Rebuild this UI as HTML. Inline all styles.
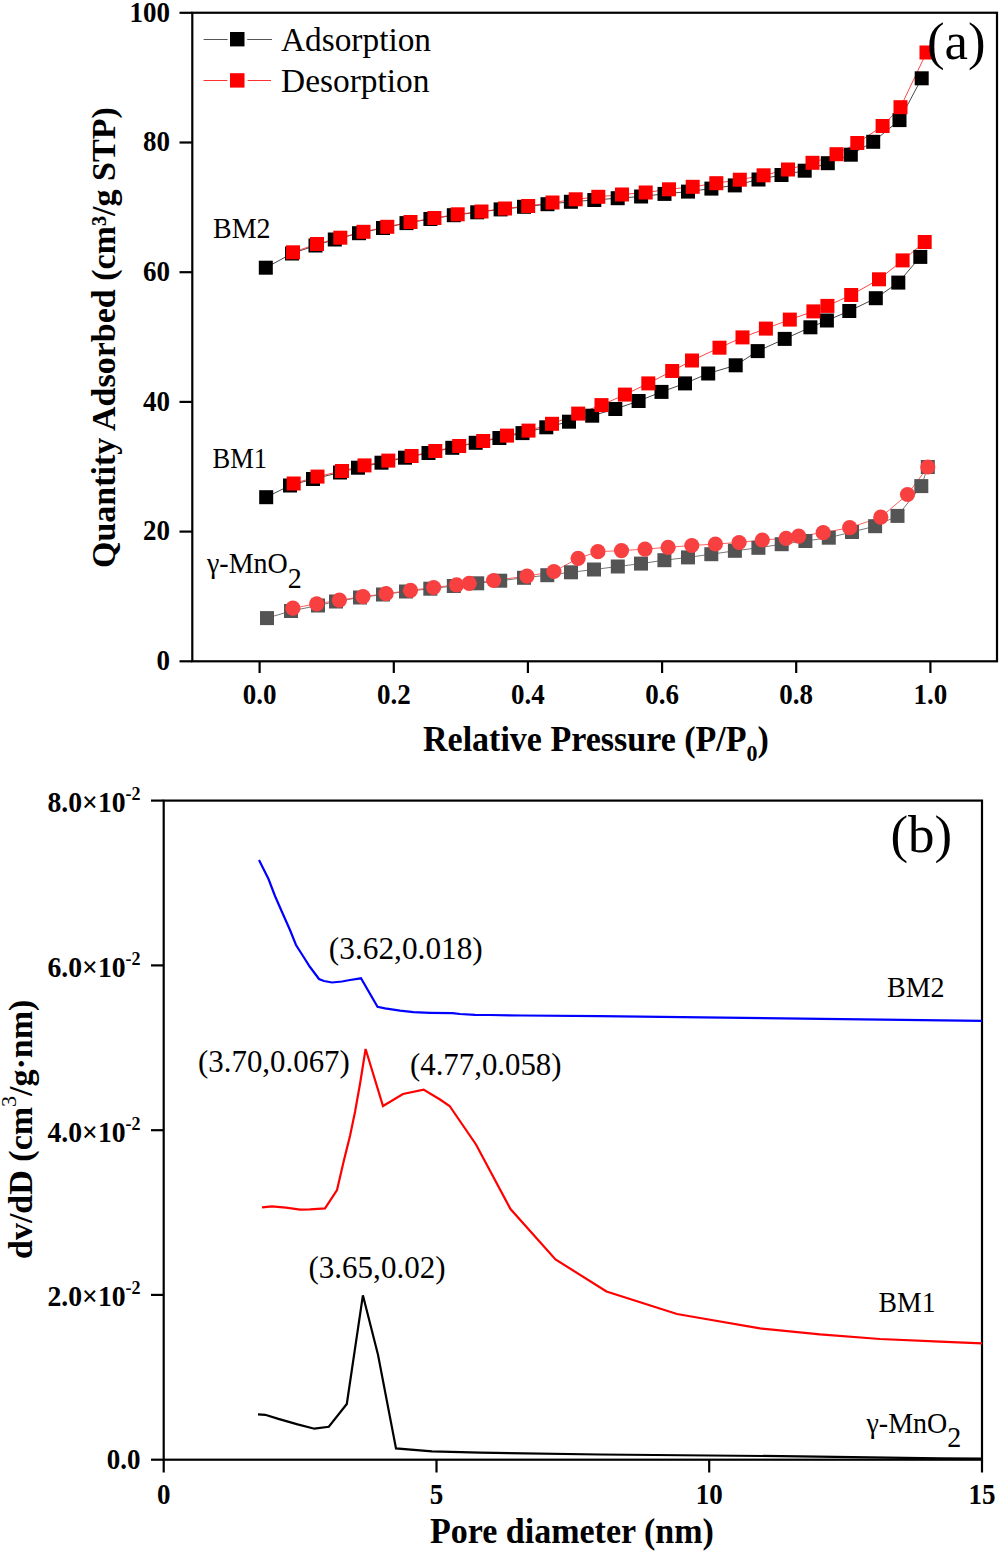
<!DOCTYPE html>
<html><head><meta charset="utf-8"><style>
html,body{margin:0;padding:0;background:#fff;}
svg{display:block;font-family:"Liberation Serif", serif;}
</style></head><body>
<svg width="1000" height="1553" viewBox="0 0 1000 1553">
<rect width="1000" height="1553" fill="#fff"/>
<rect x="192.3" y="12.75" width="804.7" height="648.55" fill="none" stroke="#000" stroke-width="2.2"/>
<line x1="179.5" y1="661.3" x2="192.3" y2="661.3" stroke="#000" stroke-width="2.2"/>
<text transform="translate(170.0,670.1) scale(1,1.1)" font-size="27" font-weight="bold" text-anchor="end" >0</text>
<line x1="179.5" y1="531.6" x2="192.3" y2="531.6" stroke="#000" stroke-width="2.2"/>
<text transform="translate(170.0,540.4) scale(1,1.1)" font-size="27" font-weight="bold" text-anchor="end" >20</text>
<line x1="179.5" y1="401.9" x2="192.3" y2="401.9" stroke="#000" stroke-width="2.2"/>
<text transform="translate(170.0,410.7) scale(1,1.1)" font-size="27" font-weight="bold" text-anchor="end" >40</text>
<line x1="179.5" y1="272.2" x2="192.3" y2="272.2" stroke="#000" stroke-width="2.2"/>
<text transform="translate(170.0,281.0) scale(1,1.1)" font-size="27" font-weight="bold" text-anchor="end" >60</text>
<line x1="179.5" y1="142.5" x2="192.3" y2="142.5" stroke="#000" stroke-width="2.2"/>
<text transform="translate(170.0,151.3) scale(1,1.1)" font-size="27" font-weight="bold" text-anchor="end" >80</text>
<line x1="179.5" y1="12.8" x2="192.3" y2="12.8" stroke="#000" stroke-width="2.2"/>
<text transform="translate(170.0,21.6) scale(1,1.1)" font-size="27" font-weight="bold" text-anchor="end" >100</text>
<line x1="259.6" y1="661.3" x2="259.6" y2="673" stroke="#000" stroke-width="2.2"/>
<text transform="translate(259.6,703.5) scale(1,1.1)" font-size="27" font-weight="bold" text-anchor="middle" >0.0</text>
<line x1="393.8" y1="661.3" x2="393.8" y2="673" stroke="#000" stroke-width="2.2"/>
<text transform="translate(393.8,703.5) scale(1,1.1)" font-size="27" font-weight="bold" text-anchor="middle" >0.2</text>
<line x1="527.9" y1="661.3" x2="527.9" y2="673" stroke="#000" stroke-width="2.2"/>
<text transform="translate(527.9,703.5) scale(1,1.1)" font-size="27" font-weight="bold" text-anchor="middle" >0.4</text>
<line x1="662.1" y1="661.3" x2="662.1" y2="673" stroke="#000" stroke-width="2.2"/>
<text transform="translate(662.1,703.5) scale(1,1.1)" font-size="27" font-weight="bold" text-anchor="middle" >0.6</text>
<line x1="796.2" y1="661.3" x2="796.2" y2="673" stroke="#000" stroke-width="2.2"/>
<text transform="translate(796.2,703.5) scale(1,1.1)" font-size="27" font-weight="bold" text-anchor="middle" >0.8</text>
<line x1="930.4" y1="661.3" x2="930.4" y2="673" stroke="#000" stroke-width="2.2"/>
<text transform="translate(930.4,703.5) scale(1,1.1)" font-size="27" font-weight="bold" text-anchor="middle" >1.0</text>
<text transform="translate(423.0,751.2) scale(1,1.05)" font-size="34" font-weight="bold" >Relative Pressure (P/P<tspan font-size="22" dy="9">0</tspan><tspan dy="-9">)</tspan></text>
<text transform="translate(114.8,568) rotate(-90)" x="0" y="0" font-size="34" font-weight="bold">Quantity Adsorbed (cm³/g STP)</text>
<polyline fill="none" stroke="#333" stroke-width="0.9" points="265.8,267.7 292.0,253.5 315.5,245.5 334.8,239.5 359.0,233.2 383.0,228.0 406.5,223.1 430.4,219.0 453.8,215.2 477.2,212.3 500.6,209.4 524.0,206.8 547.5,204.2 570.9,201.8 594.3,200.0 617.7,198.2 641.1,196.5 664.5,193.9 688.0,191.6 711.4,188.6 734.8,185.4 758.5,179.5 781.5,175.0 804.7,170.7 827.8,163.2 850.8,154.7 873.2,141.8 899.5,120.1 921.7,78.3"/>
<polyline fill="none" stroke="#ff3030" stroke-width="0.9" points="293.0,252.3 317.0,244.0 340.3,237.7 363.5,231.8 387.3,226.8 410.5,222.0 434.4,218.0 457.7,214.3 481.5,211.5 505.0,208.5 528.2,206.0 552.5,202.5 575.7,199.3 598.3,196.8 622.0,194.5 645.7,192.5 669.0,189.3 692.7,186.8 716.3,183.2 739.8,179.7 763.6,175.3 788.0,169.5 812.5,162.8 836.5,154.2 857.3,143.0 882.6,126.0 900.5,107.2 926.5,52.5"/>
<g fill="#000"><rect x="258.8" y="260.7" width="14" height="14"/><rect x="285.0" y="246.5" width="14" height="14"/><rect x="308.5" y="238.5" width="14" height="14"/><rect x="327.8" y="232.5" width="14" height="14"/><rect x="352.0" y="226.2" width="14" height="14"/><rect x="376.0" y="221.0" width="14" height="14"/><rect x="399.5" y="216.1" width="14" height="14"/><rect x="423.4" y="212.0" width="14" height="14"/><rect x="446.8" y="208.2" width="14" height="14"/><rect x="470.2" y="205.3" width="14" height="14"/><rect x="493.6" y="202.4" width="14" height="14"/><rect x="517.0" y="199.8" width="14" height="14"/><rect x="540.5" y="197.2" width="14" height="14"/><rect x="563.9" y="194.8" width="14" height="14"/><rect x="587.3" y="193.0" width="14" height="14"/><rect x="610.7" y="191.2" width="14" height="14"/><rect x="634.1" y="189.5" width="14" height="14"/><rect x="657.5" y="186.9" width="14" height="14"/><rect x="681.0" y="184.6" width="14" height="14"/><rect x="704.4" y="181.6" width="14" height="14"/><rect x="727.8" y="178.4" width="14" height="14"/><rect x="751.5" y="172.5" width="14" height="14"/><rect x="774.5" y="168.0" width="14" height="14"/><rect x="797.7" y="163.7" width="14" height="14"/><rect x="820.8" y="156.2" width="14" height="14"/><rect x="843.8" y="147.7" width="14" height="14"/><rect x="866.2" y="134.8" width="14" height="14"/><rect x="892.5" y="113.1" width="14" height="14"/><rect x="914.7" y="71.3" width="14" height="14"/></g>
<g fill="#ff0000"><rect x="286.0" y="245.3" width="14" height="14"/><rect x="310.0" y="237.0" width="14" height="14"/><rect x="333.3" y="230.7" width="14" height="14"/><rect x="356.5" y="224.8" width="14" height="14"/><rect x="380.3" y="219.8" width="14" height="14"/><rect x="403.5" y="215.0" width="14" height="14"/><rect x="427.4" y="211.0" width="14" height="14"/><rect x="450.7" y="207.3" width="14" height="14"/><rect x="474.5" y="204.5" width="14" height="14"/><rect x="498.0" y="201.5" width="14" height="14"/><rect x="521.2" y="199.0" width="14" height="14"/><rect x="545.5" y="195.5" width="14" height="14"/><rect x="568.7" y="192.3" width="14" height="14"/><rect x="591.3" y="189.8" width="14" height="14"/><rect x="615.0" y="187.5" width="14" height="14"/><rect x="638.7" y="185.5" width="14" height="14"/><rect x="662.0" y="182.3" width="14" height="14"/><rect x="685.7" y="179.8" width="14" height="14"/><rect x="709.3" y="176.2" width="14" height="14"/><rect x="732.8" y="172.7" width="14" height="14"/><rect x="756.6" y="168.3" width="14" height="14"/><rect x="781.0" y="162.5" width="14" height="14"/><rect x="805.5" y="155.8" width="14" height="14"/><rect x="829.5" y="147.2" width="14" height="14"/><rect x="850.3" y="136.0" width="14" height="14"/><rect x="875.6" y="119.0" width="14" height="14"/><rect x="893.5" y="100.2" width="14" height="14"/><rect x="919.5" y="45.5" width="14" height="14"/></g>
<polyline fill="none" stroke="#333" stroke-width="0.9" points="266.2,497.2 290.0,485.5 313.0,479.0 340.0,472.5 358.0,467.7 381.5,462.7 405.0,457.7 428.5,453.0 452.3,447.8 475.7,442.8 499.4,438.0 522.5,433.1 546.3,427.3 569.0,421.7 592.2,415.7 615.3,409.0 638.6,401.0 661.5,391.9 685.0,383.4 708.2,373.5 735.7,365.3 757.7,351.1 784.7,338.9 810.4,327.3 826.9,320.5 849.3,311.0 875.8,298.2 898.3,282.6 920.3,256.9"/>
<polyline fill="none" stroke="#ff3030" stroke-width="0.9" points="293.7,483.5 317.5,476.6 342.0,471.0 364.5,465.4 388.3,460.6 411.6,456.0 435.3,451.0 459.2,446.0 483.2,441.0 507.0,435.6 528.5,430.6 552.0,423.8 578.2,413.6 601.5,405.1 624.9,394.6 648.3,383.4 672.2,371.0 692.0,360.5 719.5,347.7 742.5,337.4 765.9,328.6 789.8,319.6 813.4,311.4 827.4,305.9 851.2,295.0 879.0,279.3 902.6,260.4 924.7,242.0"/>
<g fill="#000"><rect x="259.2" y="490.2" width="14" height="14"/><rect x="283.0" y="478.5" width="14" height="14"/><rect x="306.0" y="472.0" width="14" height="14"/><rect x="333.0" y="465.5" width="14" height="14"/><rect x="351.0" y="460.7" width="14" height="14"/><rect x="374.5" y="455.7" width="14" height="14"/><rect x="398.0" y="450.7" width="14" height="14"/><rect x="421.5" y="446.0" width="14" height="14"/><rect x="445.3" y="440.8" width="14" height="14"/><rect x="468.7" y="435.8" width="14" height="14"/><rect x="492.4" y="431.0" width="14" height="14"/><rect x="515.5" y="426.1" width="14" height="14"/><rect x="539.3" y="420.3" width="14" height="14"/><rect x="562.0" y="414.7" width="14" height="14"/><rect x="585.2" y="408.7" width="14" height="14"/><rect x="608.3" y="402.0" width="14" height="14"/><rect x="631.6" y="394.0" width="14" height="14"/><rect x="654.5" y="384.9" width="14" height="14"/><rect x="678.0" y="376.4" width="14" height="14"/><rect x="701.2" y="366.5" width="14" height="14"/><rect x="728.7" y="358.3" width="14" height="14"/><rect x="750.7" y="344.1" width="14" height="14"/><rect x="777.7" y="331.9" width="14" height="14"/><rect x="803.4" y="320.3" width="14" height="14"/><rect x="819.9" y="313.5" width="14" height="14"/><rect x="842.3" y="304.0" width="14" height="14"/><rect x="868.8" y="291.2" width="14" height="14"/><rect x="891.3" y="275.6" width="14" height="14"/><rect x="913.3" y="249.9" width="14" height="14"/></g>
<g fill="#ff0000"><rect x="286.7" y="476.5" width="14" height="14"/><rect x="310.5" y="469.6" width="14" height="14"/><rect x="335.0" y="464.0" width="14" height="14"/><rect x="357.5" y="458.4" width="14" height="14"/><rect x="381.3" y="453.6" width="14" height="14"/><rect x="404.6" y="449.0" width="14" height="14"/><rect x="428.3" y="444.0" width="14" height="14"/><rect x="452.2" y="439.0" width="14" height="14"/><rect x="476.2" y="434.0" width="14" height="14"/><rect x="500.0" y="428.6" width="14" height="14"/><rect x="521.5" y="423.6" width="14" height="14"/><rect x="545.0" y="416.8" width="14" height="14"/><rect x="571.2" y="406.6" width="14" height="14"/><rect x="594.5" y="398.1" width="14" height="14"/><rect x="617.9" y="387.6" width="14" height="14"/><rect x="641.3" y="376.4" width="14" height="14"/><rect x="665.2" y="364.0" width="14" height="14"/><rect x="685.0" y="353.5" width="14" height="14"/><rect x="712.5" y="340.7" width="14" height="14"/><rect x="735.5" y="330.4" width="14" height="14"/><rect x="758.9" y="321.6" width="14" height="14"/><rect x="782.8" y="312.6" width="14" height="14"/><rect x="806.4" y="304.4" width="14" height="14"/><rect x="820.4" y="298.9" width="14" height="14"/><rect x="844.2" y="288.0" width="14" height="14"/><rect x="872.0" y="272.3" width="14" height="14"/><rect x="895.6" y="253.4" width="14" height="14"/><rect x="917.7" y="235.0" width="14" height="14"/></g>
<polyline fill="none" stroke="#666" stroke-width="0.9" points="267.0,618.1 291.0,611.0 318.0,605.5 336.0,601.5 360.0,597.5 383.0,594.5 406.0,591.5 430.3,588.7 453.8,586.0 477.2,583.3 500.2,580.7 524.0,577.8 547.3,575.2 571.0,572.3 594.0,569.5 617.8,566.5 641.0,563.6 664.4,560.2 688.0,557.4 711.3,554.2 734.9,550.8 758.4,547.8 781.7,544.2 805.4,541.0 828.8,537.7 852.0,532.0 875.1,526.2 897.5,515.9 921.3,486.1 927.8,467.0"/>
<polyline fill="none" stroke="#ff5050" stroke-width="0.9" points="292.9,608.2 316.7,603.8 339.4,600.1 363.0,596.6 386.1,593.7 410.5,590.3 433.6,587.5 456.6,584.8 469.2,583.3 493.6,580.5 527.0,576.1 553.9,571.5 578.1,558.3 597.9,551.7 621.5,550.6 645.0,549.1 668.1,547.3 691.8,545.5 715.4,544.0 739.1,542.5 762.3,540.0 786.1,538.3 798.7,536.1 823.2,532.7 849.7,527.7 880.8,517.2 907.5,494.5 927.8,467.0"/>
<g fill="#545454"><rect x="260.0" y="611.1" width="14" height="14"/><rect x="284.0" y="604.0" width="14" height="14"/><rect x="311.0" y="598.5" width="14" height="14"/><rect x="329.0" y="594.5" width="14" height="14"/><rect x="353.0" y="590.5" width="14" height="14"/><rect x="376.0" y="587.5" width="14" height="14"/><rect x="399.0" y="584.5" width="14" height="14"/><rect x="423.3" y="581.7" width="14" height="14"/><rect x="446.8" y="579.0" width="14" height="14"/><rect x="470.2" y="576.3" width="14" height="14"/><rect x="493.2" y="573.7" width="14" height="14"/><rect x="517.0" y="570.8" width="14" height="14"/><rect x="540.3" y="568.2" width="14" height="14"/><rect x="564.0" y="565.3" width="14" height="14"/><rect x="587.0" y="562.5" width="14" height="14"/><rect x="610.8" y="559.5" width="14" height="14"/><rect x="634.0" y="556.6" width="14" height="14"/><rect x="657.4" y="553.2" width="14" height="14"/><rect x="681.0" y="550.4" width="14" height="14"/><rect x="704.3" y="547.2" width="14" height="14"/><rect x="727.9" y="543.8" width="14" height="14"/><rect x="751.4" y="540.8" width="14" height="14"/><rect x="774.7" y="537.2" width="14" height="14"/><rect x="798.4" y="534.0" width="14" height="14"/><rect x="821.8" y="530.7" width="14" height="14"/><rect x="845.0" y="525.0" width="14" height="14"/><rect x="868.1" y="519.2" width="14" height="14"/><rect x="890.5" y="508.9" width="14" height="14"/><rect x="914.3" y="479.1" width="14" height="14"/><rect x="920.8" y="460.0" width="14" height="14"/></g>
<g fill="#f84040"><circle cx="292.9" cy="608.2" r="7.6"/><circle cx="316.7" cy="603.8" r="7.6"/><circle cx="339.4" cy="600.1" r="7.6"/><circle cx="363.0" cy="596.6" r="7.6"/><circle cx="386.1" cy="593.7" r="7.6"/><circle cx="410.5" cy="590.3" r="7.6"/><circle cx="433.6" cy="587.5" r="7.6"/><circle cx="456.6" cy="584.8" r="7.6"/><circle cx="469.2" cy="583.3" r="7.6"/><circle cx="493.6" cy="580.5" r="7.6"/><circle cx="527.0" cy="576.1" r="7.6"/><circle cx="553.9" cy="571.5" r="7.6"/><circle cx="578.1" cy="558.3" r="7.6"/><circle cx="597.9" cy="551.7" r="7.6"/><circle cx="621.5" cy="550.6" r="7.6"/><circle cx="645.0" cy="549.1" r="7.6"/><circle cx="668.1" cy="547.3" r="7.6"/><circle cx="691.8" cy="545.5" r="7.6"/><circle cx="715.4" cy="544.0" r="7.6"/><circle cx="739.1" cy="542.5" r="7.6"/><circle cx="762.3" cy="540.0" r="7.6"/><circle cx="786.1" cy="538.3" r="7.6"/><circle cx="798.7" cy="536.1" r="7.6"/><circle cx="823.2" cy="532.7" r="7.6"/><circle cx="849.7" cy="527.7" r="7.6"/><circle cx="880.8" cy="517.2" r="7.6"/><circle cx="907.5" cy="494.5" r="7.6"/><circle cx="927.8" cy="467.0" r="7.6"/></g>
<text transform="translate(213.0,238.0) scale(1,1.05)" font-size="28" >BM2</text>
<text transform="translate(212.5,467.8) scale(1,1.05)" font-size="28" textLength="54.5" lengthAdjust="spacingAndGlyphs" >BM1</text>
<text transform="translate(207.0,573.0) scale(1,1.05)" font-size="28" >γ-MnO<tspan dy="14">2</tspan></text>
<path d="M203.6 39.5H227.6M247.2 39.5H272" stroke="#555" stroke-width="1.1"/>
<rect x="230" y="32" width="14.5" height="14.4" fill="#000"/>
<path d="M203.6 80.5H227.4M247.6 80.5H271" stroke="#ff3030" stroke-width="1.1"/>
<rect x="230" y="73.2" width="14.5" height="14.4" fill="#ff0000"/>
<text transform="translate(281.0,50.5) scale(1,1.05)" font-size="33" textLength="150" lengthAdjust="spacingAndGlyphs" >Adsorption</text>
<text transform="translate(281.0,92.0) scale(1,1.05)" font-size="33" textLength="148.5" lengthAdjust="spacingAndGlyphs" >Desorption</text>
<text transform="translate(927.0,58.5) scale(1,1.05)" font-size="51" textLength="58.6" lengthAdjust="spacingAndGlyphs" >(a)</text>
<rect x="163.7" y="800.6" width="818.3" height="659.1" fill="none" stroke="#000" stroke-width="2.2"/>
<line x1="151" y1="1459.7" x2="163.7" y2="1459.7" stroke="#000" stroke-width="2.2"/>
<text transform="translate(140.5,1469.2) scale(1,1.1)" font-size="27" font-weight="bold" text-anchor="end" >0.0</text>
<line x1="151" y1="1294.9" x2="163.7" y2="1294.9" stroke="#000" stroke-width="2.2"/>
<text transform="translate(47.5,1306.2) scale(1,1.1)" font-size="27" font-weight="bold" textLength="78.1" lengthAdjust="spacingAndGlyphs" >2.0×10</text>
<text transform="translate(125.6,1294.4) scale(1,1.1)" font-size="18" font-weight="bold" >-2</text>
<line x1="151" y1="1130.2" x2="163.7" y2="1130.2" stroke="#000" stroke-width="2.2"/>
<text transform="translate(47.5,1141.5) scale(1,1.1)" font-size="27" font-weight="bold" textLength="78.1" lengthAdjust="spacingAndGlyphs" >4.0×10</text>
<text transform="translate(125.6,1129.7) scale(1,1.1)" font-size="18" font-weight="bold" >-2</text>
<line x1="151" y1="965.4" x2="163.7" y2="965.4" stroke="#000" stroke-width="2.2"/>
<text transform="translate(47.5,976.7) scale(1,1.1)" font-size="27" font-weight="bold" textLength="78.1" lengthAdjust="spacingAndGlyphs" >6.0×10</text>
<text transform="translate(125.6,964.9) scale(1,1.1)" font-size="18" font-weight="bold" >-2</text>
<line x1="151" y1="800.6" x2="163.7" y2="800.6" stroke="#000" stroke-width="2.2"/>
<text transform="translate(47.5,811.9) scale(1,1.1)" font-size="27" font-weight="bold" textLength="78.1" lengthAdjust="spacingAndGlyphs" >8.0×10</text>
<text transform="translate(125.6,800.1) scale(1,1.1)" font-size="18" font-weight="bold" >-2</text>
<line x1="163.7" y1="1459.7" x2="163.7" y2="1472.5" stroke="#000" stroke-width="2.2"/>
<text transform="translate(163.7,1504.2) scale(1,1.1)" font-size="27" font-weight="bold" text-anchor="middle" >0</text>
<line x1="436.5" y1="1459.7" x2="436.5" y2="1472.5" stroke="#000" stroke-width="2.2"/>
<text transform="translate(436.5,1504.2) scale(1,1.1)" font-size="27" font-weight="bold" text-anchor="middle" >5</text>
<line x1="709.2" y1="1459.7" x2="709.2" y2="1472.5" stroke="#000" stroke-width="2.2"/>
<text transform="translate(709.2,1504.2) scale(1,1.1)" font-size="27" font-weight="bold" text-anchor="middle" >10</text>
<line x1="982.0" y1="1459.7" x2="982.0" y2="1472.5" stroke="#000" stroke-width="2.2"/>
<text transform="translate(982.0,1504.2) scale(1,1.1)" font-size="27" font-weight="bold" text-anchor="middle" >15</text>
<text transform="translate(430.0,1543.3) scale(1,1.05)" font-size="34" font-weight="bold" >Pore diameter (nm)</text>
<text transform="translate(32.3,1259) rotate(-90)" x="0" y="0" font-size="34" font-weight="bold">dv/dD (cm<tspan font-size="22" font-weight="normal" dy="-16">3</tspan><tspan dy="16">/g·nm)</tspan></text>
<polyline fill="none" stroke="#0000ff" stroke-width="2.2" points="259.0,860.0 263.0,868.0 268.5,879.0 275.0,896.0 282.0,912.0 290.0,930.0 296.0,945.0 303.0,956.0 310.0,967.0 319.0,979.0 324.0,981.0 332.0,982.5 342.0,981.5 350.0,980.0 361.0,978.3 377.5,1006.8 385.0,1008.3 400.0,1010.7 413.5,1012.2 430.0,1012.8 452.5,1013.2 460.0,1014.0 475.0,1014.8 490.0,1015.0 522.0,1015.5 600.0,1016.2 982.0,1020.8"/>
<polyline fill="none" stroke="#ff0000" stroke-width="2.2" points="262.0,1207.4 272.0,1206.4 286.0,1207.6 300.0,1209.6 310.0,1209.4 325.0,1208.4 337.0,1190.0 344.0,1160.0 350.0,1136.0 355.0,1112.0 360.0,1084.0 365.6,1049.0 383.0,1106.0 403.0,1094.0 423.6,1089.6 440.0,1099.5 449.6,1106.0 476.0,1144.5 510.5,1209.0 555.5,1259.4 606.5,1291.5 677.0,1314.0 700.0,1318.0 760.0,1328.4 820.0,1334.4 880.0,1339.0 940.0,1341.6 982.0,1343.4"/>
<polyline fill="none" stroke="#000" stroke-width="2.2" points="258.0,1414.3 265.2,1414.8 278.4,1418.9 297.6,1424.4 314.4,1428.7 328.8,1426.8 346.8,1404.0 362.9,1295.3 378.0,1354.8 396.0,1448.4 432.0,1451.3 480.0,1452.7 600.0,1454.5 800.0,1456.3 940.0,1458.3 982.0,1458.6"/>
<text transform="translate(328.8,958.9) scale(1,1.05)" font-size="30" textLength="154" lengthAdjust="spacingAndGlyphs" >(3.62,0.018)</text>
<text transform="translate(198.0,1072.0) scale(1,1.05)" font-size="30" textLength="151.8" lengthAdjust="spacingAndGlyphs" >(3.70,0.067)</text>
<text transform="translate(410.0,1075.0) scale(1,1.05)" font-size="30" textLength="151.5" lengthAdjust="spacingAndGlyphs" >(4.77,0.058)</text>
<text transform="translate(308.5,1278.0) scale(1,1.05)" font-size="30" textLength="137" lengthAdjust="spacingAndGlyphs" >(3.65,0.02)</text>
<text transform="translate(887.0,997.0) scale(1,1.05)" font-size="28" >BM2</text>
<text transform="translate(878.5,1312.0) scale(1,1.05)" font-size="28" textLength="57" lengthAdjust="spacingAndGlyphs" >BM1</text>
<text transform="translate(866.5,1432.5) scale(1,1.05)" font-size="28" >γ-MnO<tspan dy="14">2</tspan></text>
<text transform="translate(890.5,852.0) scale(1,1.05)" font-size="51" textLength="61.7" lengthAdjust="spacingAndGlyphs" >(b)</text>
</svg>
</body></html>
